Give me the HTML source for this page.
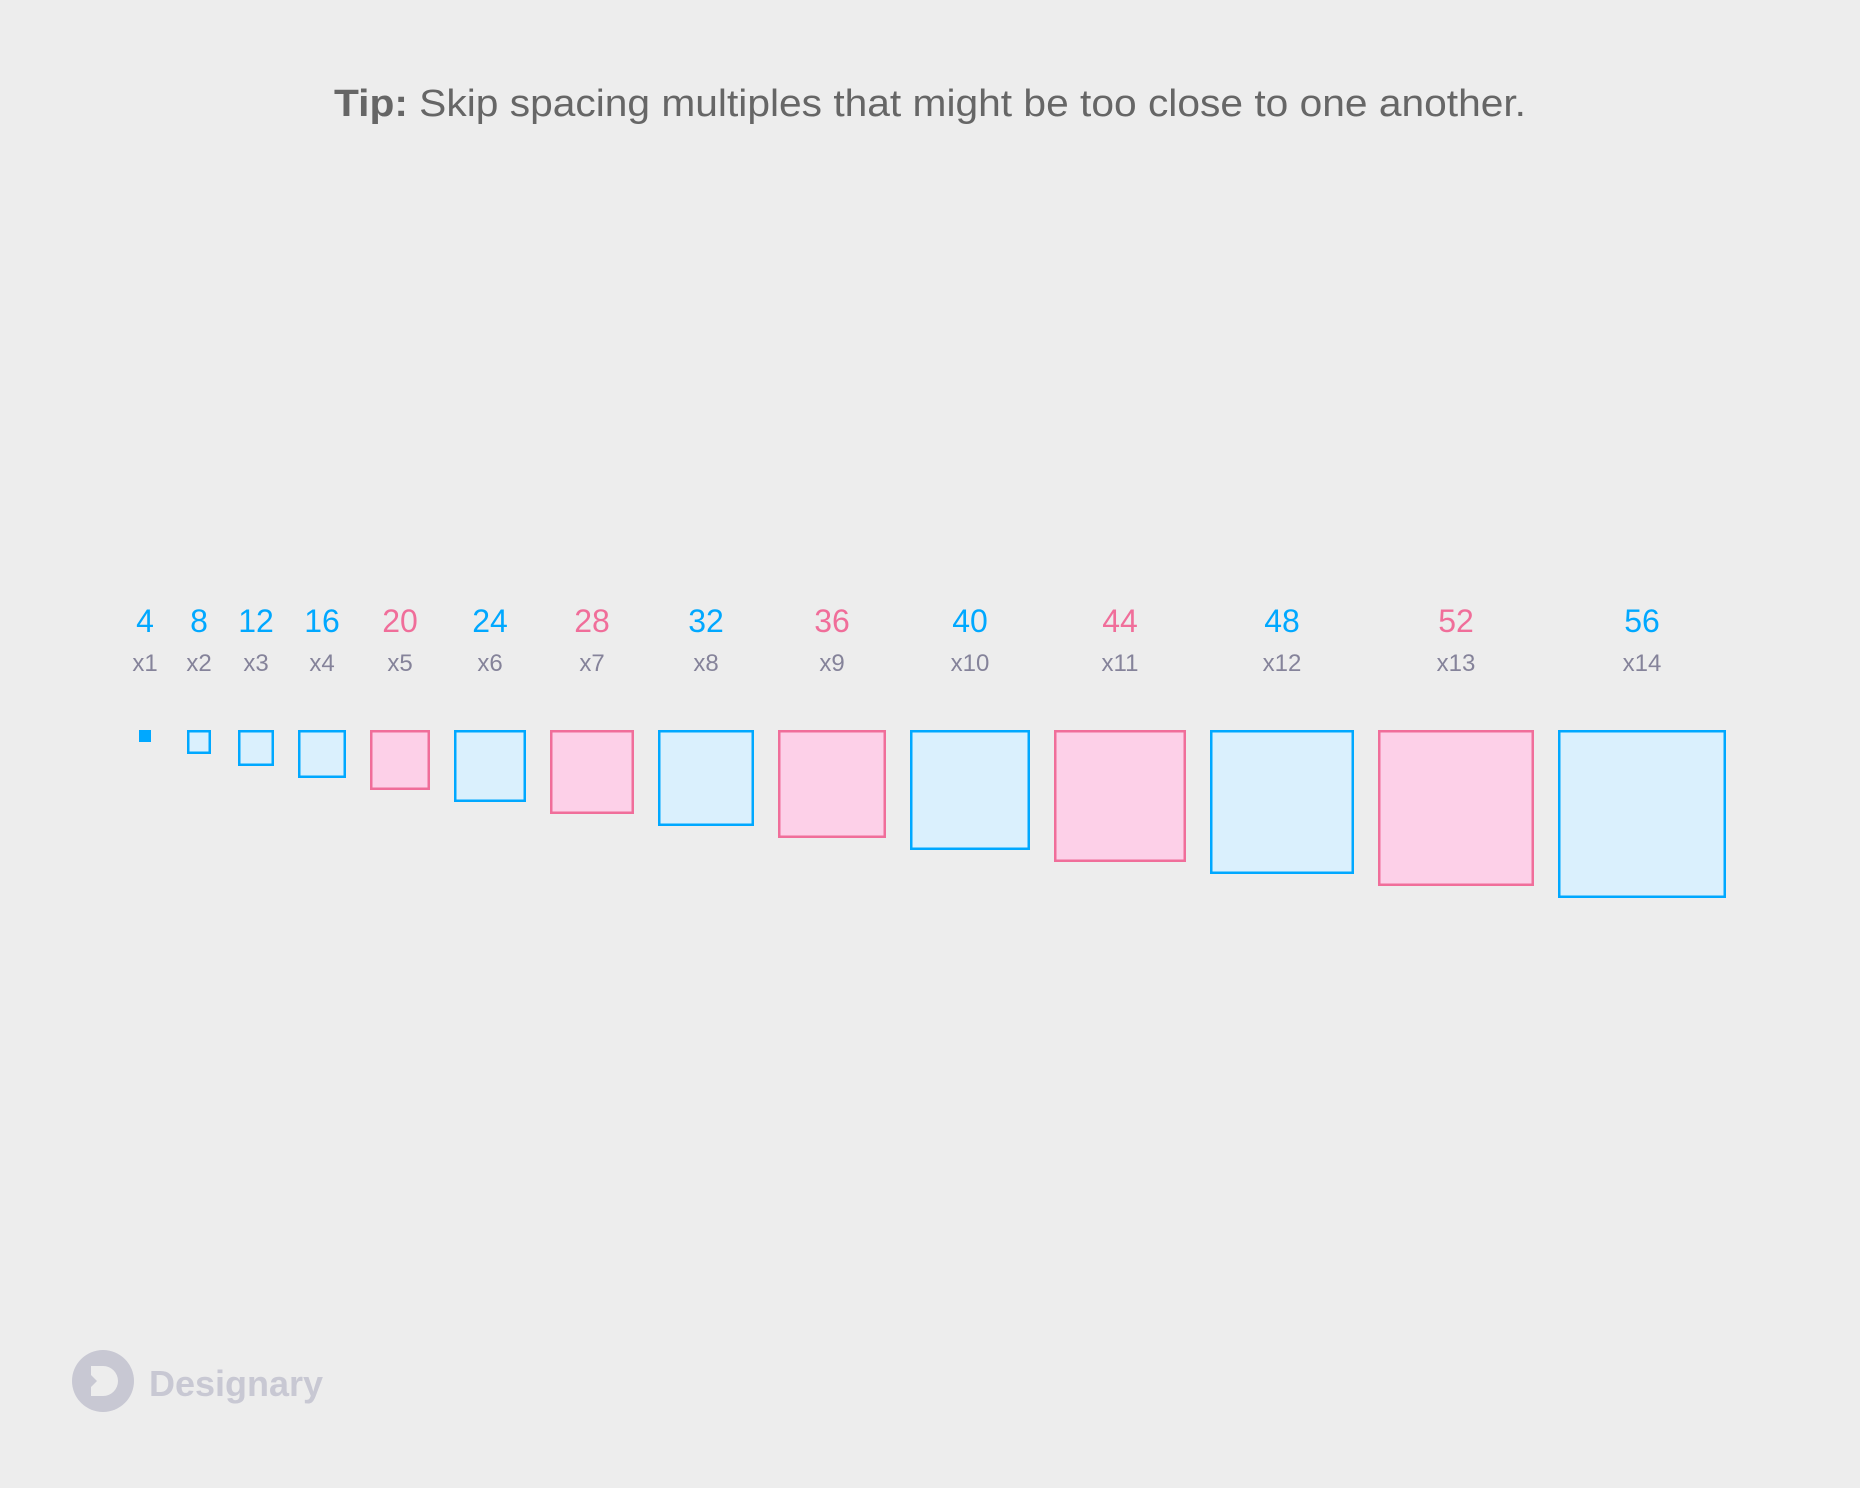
<!DOCTYPE html>
<html><head><meta charset="utf-8"><style>
html,body{margin:0;padding:0;background:#ededed;}
svg{display:block;font-family:"Liberation Sans",sans-serif;}
</style></head><body>
<svg id="chart" width="1860" height="1488" viewBox="0 0 1860 1488">
<rect width="1860" height="1488" fill="#ededed"/>
<text x="930" y="116" text-anchor="middle" font-size="38" fill="#666" textLength="1192" lengthAdjust="spacingAndGlyphs"><tspan font-weight="bold">Tip:</tspan> Skip spacing multiples that might be too close to one another.</text>
<g id="boxes"></g>
<g>
<circle cx="103" cy="1381" r="31" fill="#c8c8d3"/>
<path d="M91 1366 h12 a15 15 0 0 1 0 30 h-12 v-9 l6 -6 l-6 -6 z" fill="#ededed"/>
<text x="149" y="1396" font-size="36" font-weight="bold" fill="#c8c8d3">Designary</text>
</g>
</svg>
<script>
const values=[4,8,12,16,20,24,28,32,36,40,44,48,52,56];
const multiples=["x1","x2","x3","x4","x5","x6","x7","x8","x9","x10","x11","x12","x13","x14"];
const highlighted=[false,false,false,false,true,false,true,false,true,false,true,false,true,false];
const NS="http://www.w3.org/2000/svg";
const g=document.getElementById('boxes');
const scale=v=>v*3;
let cx=145,prevW=null;
values.forEach((v,i)=>{
  const w=scale(v);
  if(prevW!==null){cx+=Math.max(prevW,30)/2+Math.max(w,30)/2+24;}
  prevW=w;
  const pink=highlighted[i];
  const stroke=pink?'#f06e9a':'#00a8ff';
  const fill=pink?'#fdd0e8':'#daf0fd';
  const num=document.createElementNS(NS,'text');
  
  
  num.setAttribute('x',cx);num.setAttribute('y',632);
  num.setAttribute('text-anchor','middle');num.setAttribute('font-size','32');
  num.setAttribute('fill',stroke);num.textContent=v;g.appendChild(num);
  const m=document.createElementNS(NS,'text');
  
  
  m.setAttribute('x',cx);m.setAttribute('y',671);
  m.setAttribute('text-anchor','middle');m.setAttribute('font-size','24');
  m.setAttribute('fill','#85839a');m.textContent=multiples[i];g.appendChild(m);
  const r=document.createElementNS(NS,'rect');
  
  
  const sw=2.5;
  if(w<=14){
    r.setAttribute('x',cx-w/2);r.setAttribute('y',730);r.setAttribute('width',w);r.setAttribute('height',w);
    r.setAttribute('fill',stroke);
  }else{
    r.setAttribute('x',cx-w/2+sw/2);r.setAttribute('y',730+sw/2);
    r.setAttribute('width',w-sw);r.setAttribute('height',w-sw);
    r.setAttribute('fill',fill);r.setAttribute('stroke',stroke);r.setAttribute('stroke-width',sw);
  }
  g.appendChild(r);
});
</script>
</body></html>
